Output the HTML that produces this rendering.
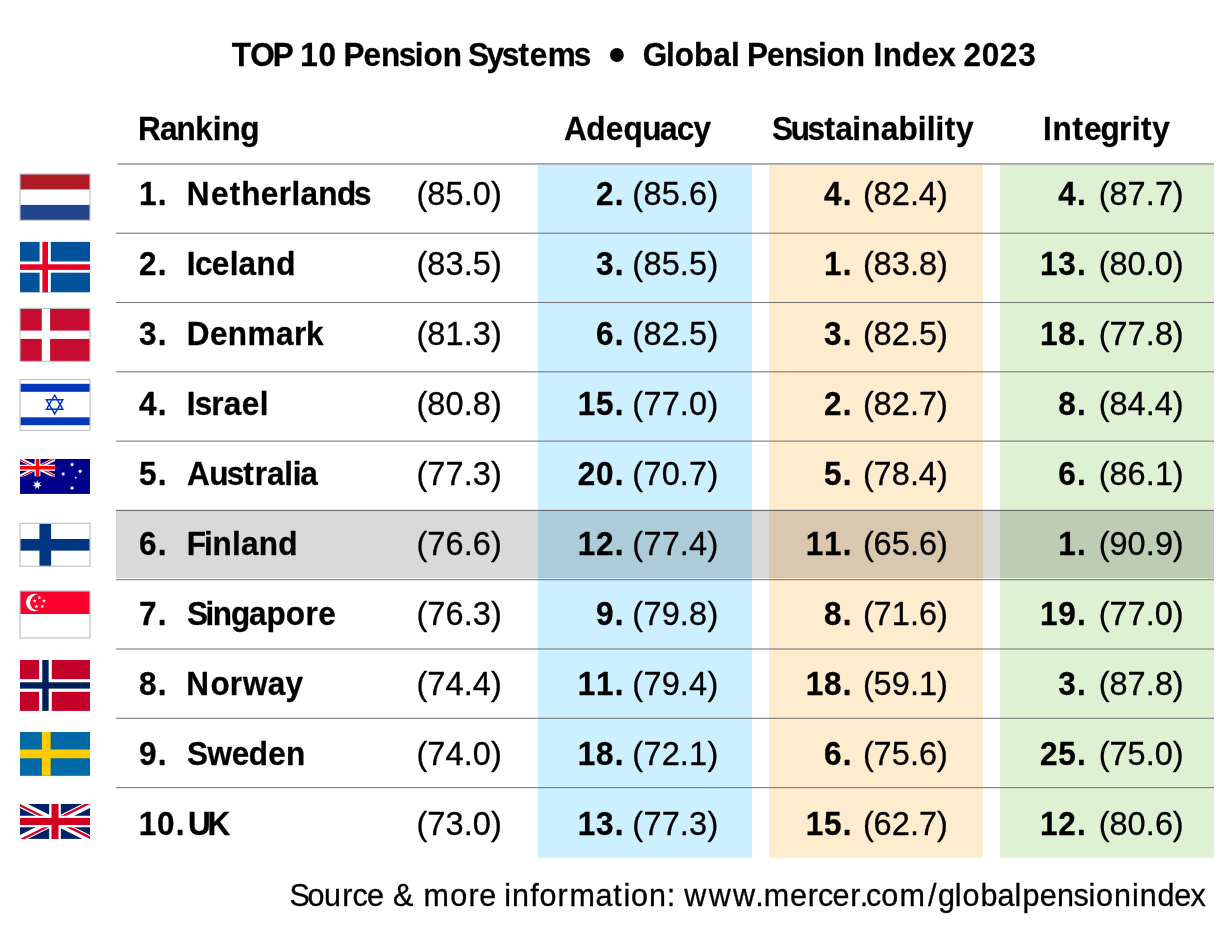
<!DOCTYPE html>
<html lang="en"><head><meta charset="utf-8"><title>TOP 10 Pension Systems - Global Pension Index 2023</title>
<style>html,body{margin:0;padding:0;background:#fff}svg{display:block}text{font-family:"Liberation Sans",sans-serif;white-space:pre;font-variant-ligatures:none;font-kerning:none}text{stroke:#000;stroke-width:.3px;stroke-linejoin:round}.b{font-weight:700;stroke-width:.3px}</style></head><body>
<svg width="1232" height="936" viewBox="0 0 1232 936">
<rect width="1232" height="936" fill="#fff"/>
<rect x="538" y="164.5" width="214" height="693.2" fill="#CCF0FF"/>
<rect x="769" y="164.5" width="214" height="693.2" fill="#FFEBCD"/>
<rect x="1000" y="164.5" width="214" height="693.2" fill="#DEF1D3"/>
<rect x="117.5" y="163" width="1096.5" height="1.8" fill="#a6a6a6"/>
<rect x="116" y="232.65" width="1098" height="1.1" fill="#7c7c7c"/>
<rect x="116" y="301.95" width="1098" height="1.1" fill="#7c7c7c"/>
<rect x="116" y="371.25" width="1098" height="1.1" fill="#7c7c7c"/>
<rect x="116" y="440.55" width="1098" height="1.1" fill="#7c7c7c"/>
<rect x="116" y="509.85" width="1098" height="1.1" fill="#7c7c7c"/>
<rect x="116" y="579.15" width="1098" height="1.1" fill="#7c7c7c"/>
<rect x="116" y="648.45" width="1098" height="1.1" fill="#7c7c7c"/>
<rect x="116" y="717.75" width="1098" height="1.1" fill="#7c7c7c"/>
<rect x="116" y="787.05" width="1098" height="1.1" fill="#7c7c7c"/>
<rect x="116" y="509.9" width="1098" height="68.3" fill="#000" fill-opacity="0.15"/>
<defs><clipPath id="ujt"><path d="M30,15 h30 v15 z v15 h-30 z h-30 v-15 z v-15 h30 z"/></clipPath></defs>
<g><rect x="20" y="174" width="70" height="46.3" fill="#fff"/><rect x="20" y="174" width="70" height="15.43" fill="#AE1C28"/><rect x="20" y="204.87" width="70" height="15.43" fill="#21468B"/><rect x="20" y="174" width="70" height="46.3" fill="none" stroke="#c2c2c2" stroke-width="1.2"/></g>
<g><rect x="20" y="241.9" width="70" height="50.4" fill="#02529C"/><rect x="39.60" y="241.9" width="11.20" height="50.4" fill="#fff"/><rect x="20" y="261.50" width="70" height="11.20" fill="#fff"/><rect x="42.40" y="241.9" width="5.60" height="50.4" fill="#EA0029"/><rect x="20" y="264.30" width="70" height="5.60" fill="#EA0029"/></g>
<g><rect x="20" y="308.4" width="70" height="53" fill="#C60C30"/><rect x="41.8" y="308.4" width="8.3" height="53" fill="#fff"/><rect x="20" y="330.6" width="70" height="8.3" fill="#fff"/><rect x="20" y="308.4" width="70" height="53" fill="none" stroke="#c2c2c2" stroke-width="1.2"/></g>
<g><rect x="20.1" y="379.55" width="70" height="50.9" fill="#fff"/><rect x="20.1" y="383.8" width="70" height="8" fill="#0038B8"/><rect x="20.1" y="417.3" width="70" height="7.9" fill="#0038B8"/><polygon points="54.65,395.15 62.79,409.25 46.51,409.25" fill="none" stroke="#0038B8" stroke-width="1.5"/><polygon points="54.65,413.95 46.51,399.85 62.79,399.85" fill="none" stroke="#0038B8" stroke-width="1.5"/><rect x="20.1" y="379.55" width="70" height="50.9" fill="none" stroke="#c2c2c2" stroke-width="1.2"/></g>
<g><rect x="20" y="459" width="70" height="34.9" fill="#00008B"/><svg x="20" y="459" width="35" height="17.5" viewBox="0 0 60 30" preserveAspectRatio="none"><path d="M0,0 L60,30 M60,0 L0,30" stroke="#fff" stroke-width="6"/><path d="M0,0 L60,30 M60,0 L0,30" clip-path="url(#ujt)" stroke="#FF0000" stroke-width="4"/><path d="M30,0 v30 M0,15 h60" stroke="#fff" stroke-width="10"/><path d="M30,0 v30 M0,15 h60" stroke="#FF0000" stroke-width="6"/></svg><polygon points="37.20,480.10 38.15,482.92 40.95,481.91 39.34,484.41 41.88,485.97 38.92,486.27 39.28,489.22 37.20,487.10 35.12,489.22 35.48,486.27 32.52,485.97 35.06,484.41 33.45,481.91 36.25,482.92" fill="#fff"/><polygon points="72.10,485.70 72.58,487.01 73.90,486.57 73.17,487.76 74.34,488.51 72.96,488.69 73.10,490.07 72.10,489.10 71.10,490.07 71.24,488.69 69.86,488.51 71.03,487.76 70.30,486.57 71.62,487.01" fill="#fff"/><polygon points="63.20,471.60 63.68,472.91 65.00,472.47 64.27,473.66 65.44,474.41 64.06,474.59 64.20,475.97 63.20,475.00 62.20,475.97 62.34,474.59 60.96,474.41 62.13,473.66 61.40,472.47 62.72,472.91" fill="#fff"/><polygon points="72.10,462.30 72.58,463.61 73.90,463.17 73.17,464.36 74.34,465.11 72.96,465.29 73.10,466.67 72.10,465.70 71.10,466.67 71.24,465.29 69.86,465.11 71.03,464.36 70.30,463.17 71.62,463.61" fill="#fff"/><polygon points="80.10,469.00 80.58,470.31 81.90,469.87 81.17,471.06 82.34,471.81 80.96,471.99 81.10,473.37 80.10,472.40 79.10,473.37 79.24,471.99 77.86,471.81 79.03,471.06 78.30,469.87 79.62,470.31" fill="#fff"/><polygon points="75.70,476.20 76.05,477.11 77.03,477.17 76.27,477.79 76.52,478.73 75.70,478.20 74.88,478.73 75.13,477.79 74.37,477.17 75.35,477.11" fill="#fff"/></g>
<g><rect x="20" y="523.4" width="70" height="42.8" fill="#fff"/><rect x="39.44" y="523.4" width="11.67" height="42.8" fill="#003580"/><rect x="20" y="538.96" width="70" height="11.67" fill="#003580"/><rect x="20" y="523.4" width="70" height="42.8" fill="none" stroke="#c2c2c2" stroke-width="1.2"/></g>
<g><rect x="20" y="591" width="70" height="47" fill="#fff"/><rect x="20" y="591" width="70" height="23" fill="#FB002E"/><circle cx="34.75" cy="602.5" r="8.75" fill="#fff"/><circle cx="38.4" cy="602.5" r="8.3" fill="#FB002E"/><polygon points="39.30,595.35 39.80,596.86 41.39,596.87 40.11,597.81 40.59,599.33 39.30,598.40 38.01,599.33 38.49,597.81 37.21,596.87 38.80,596.86" fill="#fff"/><polygon points="44.01,598.77 44.51,600.28 46.10,600.29 44.82,601.23 45.30,602.75 44.01,601.82 42.71,602.75 43.20,601.23 41.92,600.29 43.51,600.28" fill="#fff"/><polygon points="42.21,604.30 42.71,605.82 44.30,605.82 43.02,606.77 43.50,608.28 42.21,607.35 40.92,608.28 41.40,606.77 40.12,605.82 41.71,605.82" fill="#fff"/><polygon points="36.39,604.30 36.89,605.82 38.48,605.82 37.20,606.77 37.68,608.28 36.39,607.35 35.10,608.28 35.58,606.77 34.30,605.82 35.89,605.82" fill="#fff"/><polygon points="34.59,598.77 35.09,600.28 36.68,600.29 35.40,601.23 35.89,602.75 34.59,601.82 33.30,602.75 33.78,601.23 32.50,600.29 34.09,600.28" fill="#fff"/><rect x="20" y="591" width="70" height="47" fill="none" stroke="#c2c2c2" stroke-width="1.2"/></g>
<g><rect x="20" y="660" width="70" height="50.9" fill="#C4002A"/><rect x="39.09" y="660" width="12.73" height="50.9" fill="#fff"/><rect x="20" y="679.09" width="70" height="12.73" fill="#fff"/><rect x="42.27" y="660" width="6.36" height="50.9" fill="#00205B"/><rect x="20" y="682.27" width="70" height="6.36" fill="#00205B"/></g>
<g><rect x="20" y="732" width="70" height="43.8" fill="#006AA7"/><rect x="41.88" y="732" width="8.75" height="43.8" fill="#FECC00"/><rect x="20" y="749.50" width="70" height="8.75" fill="#FECC00"/></g>
<svg x="20" y="804" width="70" height="34.9" viewBox="0 0 60 30" preserveAspectRatio="none"><rect width="60" height="30" fill="#012169"/><path d="M0,0 L60,30 M60,0 L0,30" stroke="#fff" stroke-width="6"/><path d="M0,0 L60,30 M60,0 L0,30" clip-path="url(#ujt)" stroke="#D4001F" stroke-width="4"/><path d="M30,0 v30 M0,15 h60" stroke="#fff" stroke-width="10"/><path d="M30,0 v30 M0,15 h60" stroke="#D4001F" stroke-width="6"/></svg>
<circle cx="616.9" cy="55" r="6.9" fill="#000"/>
<text class="b" transform="scale(0.97,1)" x="238.9 258.0 281.1 300.6 309.6 328.4 346.5 354.2 374.8 392.9 411.1 427.5 436.6 456.5 476.0 482.6 501.6 517.4 534.5 546.2 564.6 591.5" y="66.25" font-size="32.5">TOP 10 Pension Systems</text>
<text class="b" transform="scale(0.97,1)" x="662.6 686.6 695.7 715.5 735.4 753.6 762.3 770.0 790.6 808.6 826.7 843.2 852.2 872.0 891.5 900.6 910.0 929.8 949.9 967.4 984.3 993.3 1012.0 1030.7 1049.7" y="66.25" font-size="32.5">Global Pension Index 2023</text>
<text class="b" transform="scale(0.97,1)" x="142.3 164.9 182.1 201.3 219.3 228.3 247.7" y="139.75" font-size="32.5">Ranking</text>
<text class="b" transform="scale(0.97,1)" x="581.5 604.4 624.4 642.7 662.1 680.4 697.6 715.0" y="139.75" font-size="32.5">Adequacy</text>
<text class="b" transform="scale(0.97,1)" x="795.9 815.2 832.6 850.0 861.1 878.7 887.9 907.9 926.2 946.2 955.3 964.4 974.0 985.6" y="139.75" font-size="32.5">Sustainability</text>
<text class="b" transform="scale(0.97,1)" x="1075.3 1085.0 1105.8 1117.5 1134.6 1153.7 1166.7 1176.3 1187.8" y="139.75" font-size="32.5">Integrity</text>
<text class="b" transform="scale(0.97,1)" x="143.3 162.7" y="204.75" font-size="32.5">1.</text>
<text class="b" transform="scale(0.97,1)" x="192.6 217.6 236.9 248.7 268.9 287.5 300.5 309.7 328.0 347.3 364.9" y="204.75" font-size="32.5">Netherlands</text>
<text x="416.4 427.2 445.5 463.7 472.7 490.9" y="204.75" font-size="32.5">(85.0)</text>
<text class="b" transform="scale(0.97,1)" x="614.5 633.9" y="204.75" font-size="32.5">2.</text>
<text x="632.2 643.4 661.7 679.8 689.0 707.4" y="204.75" font-size="32.5">(85.6)</text>
<text class="b" transform="scale(0.97,1)" x="849.5 868.9" y="204.75" font-size="32.5">4.</text>
<text x="862.9 873.5 891.7 909.9 918.8 936.9" y="204.75" font-size="32.5">(82.4)</text>
<text class="b" transform="scale(0.97,1)" x="1091.0 1110.4" y="204.75" font-size="32.5">4.</text>
<text x="1098.7 1109.4 1127.6 1145.8 1154.9 1172.8" y="204.75" font-size="32.5">(87.7)</text>
<text class="b" transform="scale(0.97,1)" x="143.3 162.7" y="274.75" font-size="32.5">2.</text>
<text class="b" transform="scale(0.97,1)" x="192.6 201.0 218.2 236.8 246.0 264.4 284.7" y="274.75" font-size="32.5">Iceland</text>
<text x="416.4 427.2 445.5 463.7 472.8 490.9" y="274.75" font-size="32.5">(83.5)</text>
<text class="b" transform="scale(0.97,1)" x="614.5 633.9" y="274.75" font-size="32.5">3.</text>
<text x="632.2 643.4 661.7 679.8 689.0 707.4" y="274.75" font-size="32.5">(85.5)</text>
<text class="b" transform="scale(0.97,1)" x="849.5 868.9" y="274.75" font-size="32.5">1.</text>
<text x="862.9 873.5 891.7 909.9 919.1 936.9" y="274.75" font-size="32.5">(83.8)</text>
<text class="b" transform="scale(0.97,1)" x="1072.2 1091.0 1110.4" y="274.75" font-size="32.5">13.</text>
<text x="1098.7 1109.4 1127.6 1145.8 1154.7 1172.8" y="274.75" font-size="32.5">(80.0)</text>
<text class="b" transform="scale(0.97,1)" x="143.3 162.7" y="344.75" font-size="32.5">3.</text>
<text class="b" transform="scale(0.97,1)" x="192.6 216.4 234.7 255.1 284.6 303.0 315.5" y="344.75" font-size="32.5">Denmark</text>
<text x="416.4 427.2 445.5 463.7 472.8 490.9" y="344.75" font-size="32.5">(81.3)</text>
<text class="b" transform="scale(0.97,1)" x="614.5 633.9" y="344.75" font-size="32.5">6.</text>
<text x="632.2 643.4 661.7 679.8 689.0 707.4" y="344.75" font-size="32.5">(82.5)</text>
<text class="b" transform="scale(0.97,1)" x="849.5 868.9" y="344.75" font-size="32.5">3.</text>
<text x="862.9 873.5 891.7 909.9 919.1 936.9" y="344.75" font-size="32.5">(82.5)</text>
<text class="b" transform="scale(0.97,1)" x="1072.2 1091.0 1110.4" y="344.75" font-size="32.5">18.</text>
<text x="1098.7 1109.4 1127.6 1145.8 1154.9 1172.8" y="344.75" font-size="32.5">(77.8)</text>
<text class="b" transform="scale(0.97,1)" x="143.3 162.7" y="414.75" font-size="32.5">4.</text>
<text class="b" transform="scale(0.97,1)" x="192.6 200.8 217.9 230.8 249.3 267.9" y="414.75" font-size="32.5">Israel</text>
<text x="416.4 427.2 445.5 463.7 472.8 490.9" y="414.75" font-size="32.5">(80.8)</text>
<text class="b" transform="scale(0.97,1)" x="595.7 614.5 633.9" y="414.75" font-size="32.5">15.</text>
<text x="632.2 643.4 661.7 679.8 689.0 707.4" y="414.75" font-size="32.5">(77.0)</text>
<text class="b" transform="scale(0.97,1)" x="849.5 868.9" y="414.75" font-size="32.5">2.</text>
<text x="862.9 873.5 891.7 909.9 919.1 936.9" y="414.75" font-size="32.5">(82.7)</text>
<text class="b" transform="scale(0.97,1)" x="1091.0 1110.4" y="414.75" font-size="32.5">8.</text>
<text x="1098.7 1109.4 1127.6 1145.8 1154.7 1172.8" y="414.75" font-size="32.5">(84.4)</text>
<text class="b" transform="scale(0.97,1)" x="143.3 162.7" y="484.75" font-size="32.5">5.</text>
<text class="b" transform="scale(0.97,1)" x="192.8 215.6 233.7 250.9 262.7 275.3 293.0 301.9 309.6" y="484.75" font-size="32.5">Australia</text>
<text x="416.4 427.2 445.5 463.7 472.8 490.9" y="484.75" font-size="32.5">(77.3)</text>
<text class="b" transform="scale(0.97,1)" x="595.7 614.5 633.9" y="484.75" font-size="32.5">20.</text>
<text x="632.2 643.4 661.7 679.8 689.0 707.4" y="484.75" font-size="32.5">(70.7)</text>
<text class="b" transform="scale(0.97,1)" x="849.5 868.9" y="484.75" font-size="32.5">5.</text>
<text x="862.9 873.5 891.7 909.9 918.8 936.9" y="484.75" font-size="32.5">(78.4)</text>
<text class="b" transform="scale(0.97,1)" x="1091.0 1110.4" y="484.75" font-size="32.5">6.</text>
<text x="1098.7 1109.4 1127.6 1145.8 1154.9 1172.8" y="484.75" font-size="32.5">(86.1)</text>
<text class="b" transform="scale(0.97,1)" x="143.3 162.7" y="554.75" font-size="32.5">6.</text>
<text class="b" transform="scale(0.97,1)" x="192.6 210.3 219.2 239.1 248.4 266.7 286.9" y="554.75" font-size="32.5">Finland</text>
<text x="416.4 427.2 445.5 463.7 472.8 490.9" y="554.75" font-size="32.5">(76.6)</text>
<text class="b" transform="scale(0.97,1)" x="595.7 614.5 633.9" y="554.75" font-size="32.5">12.</text>
<text x="632.2 643.4 661.7 679.8 689.0 707.4" y="554.75" font-size="32.5">(77.4)</text>
<text class="b" transform="scale(0.97,1)" x="830.7 849.5 868.9" y="554.75" font-size="32.5">11.</text>
<text x="862.9 873.5 891.7 909.9 919.1 936.9" y="554.75" font-size="32.5">(65.6)</text>
<text class="b" transform="scale(0.97,1)" x="1091.0 1110.4" y="554.75" font-size="32.5">1.</text>
<text x="1098.7 1109.4 1127.6 1145.8 1154.9 1172.8" y="554.75" font-size="32.5">(90.9)</text>
<text class="b" transform="scale(0.97,1)" x="143.3 162.7" y="624.75" font-size="32.5">7.</text>
<text class="b" transform="scale(0.97,1)" x="192.8 211.8 219.4 238.2 256.8 274.7 294.7 314.9 328.1" y="624.75" font-size="32.5">Singapore</text>
<text x="416.4 427.2 445.5 463.7 472.8 490.9" y="624.75" font-size="32.5">(76.3)</text>
<text class="b" transform="scale(0.97,1)" x="614.5 633.9" y="624.75" font-size="32.5">9.</text>
<text x="632.2 643.4 661.7 679.8 689.0 707.4" y="624.75" font-size="32.5">(79.8)</text>
<text class="b" transform="scale(0.97,1)" x="849.5 868.9" y="624.75" font-size="32.5">8.</text>
<text x="862.9 873.5 891.7 909.9 919.1 936.9" y="624.75" font-size="32.5">(71.6)</text>
<text class="b" transform="scale(0.97,1)" x="1072.2 1091.0 1110.4" y="624.75" font-size="32.5">19.</text>
<text x="1098.7 1109.4 1127.6 1145.8 1154.7 1172.8" y="624.75" font-size="32.5">(77.0)</text>
<text class="b" transform="scale(0.97,1)" x="143.3 162.7" y="694.75" font-size="32.5">8.</text>
<text class="b" transform="scale(0.97,1)" x="192.0 216.9 236.8 250.5 276.0 294.3" y="694.75" font-size="32.5">Norway</text>
<text x="416.4 427.2 445.5 463.7 472.7 490.9" y="694.75" font-size="32.5">(74.4)</text>
<text class="b" transform="scale(0.97,1)" x="595.7 614.5 633.9" y="694.75" font-size="32.5">11.</text>
<text x="632.2 643.4 661.7 679.8 689.0 707.4" y="694.75" font-size="32.5">(79.4)</text>
<text class="b" transform="scale(0.97,1)" x="830.7 849.5 868.9" y="694.75" font-size="32.5">18.</text>
<text x="862.9 873.5 891.7 909.9 919.1 936.9" y="694.75" font-size="32.5">(59.1)</text>
<text class="b" transform="scale(0.97,1)" x="1091.0 1110.4" y="694.75" font-size="32.5">3.</text>
<text x="1098.7 1109.4 1127.6 1145.8 1154.9 1172.8" y="694.75" font-size="32.5">(87.8)</text>
<text class="b" transform="scale(0.97,1)" x="143.3 162.7" y="764.75" font-size="32.5">9.</text>
<text class="b" transform="scale(0.97,1)" x="192.8 213.8 238.8 256.4 276.6 294.9" y="764.75" font-size="32.5">Sweden</text>
<text x="416.4 427.2 445.5 463.7 472.7 490.9" y="764.75" font-size="32.5">(74.0)</text>
<text class="b" transform="scale(0.97,1)" x="595.7 614.5 633.9" y="764.75" font-size="32.5">18.</text>
<text x="632.2 643.4 661.7 679.8 689.0 707.4" y="764.75" font-size="32.5">(72.1)</text>
<text class="b" transform="scale(0.97,1)" x="849.5 868.9" y="764.75" font-size="32.5">6.</text>
<text x="862.9 873.5 891.7 909.9 919.1 936.9" y="764.75" font-size="32.5">(75.6)</text>
<text class="b" transform="scale(0.97,1)" x="1072.2 1091.0 1110.4" y="764.75" font-size="32.5">25.</text>
<text x="1098.7 1109.4 1127.6 1145.8 1154.7 1172.8" y="764.75" font-size="32.5">(75.0)</text>
<text class="b" transform="scale(0.97,1)" x="143.0 161.8 181.3" y="834.75" font-size="32.5">10.</text>
<text class="b" transform="scale(0.97,1)" x="193.7 214.0" y="834.75" font-size="32.5">UK</text>
<text x="416.4 427.2 445.5 463.7 472.7 490.9" y="834.75" font-size="32.5">(73.0)</text>
<text class="b" transform="scale(0.97,1)" x="595.7 614.5 633.9" y="834.75" font-size="32.5">13.</text>
<text x="632.2 643.4 661.7 679.8 689.0 707.4" y="834.75" font-size="32.5">(77.3)</text>
<text class="b" transform="scale(0.97,1)" x="830.7 849.5 868.9" y="834.75" font-size="32.5">15.</text>
<text x="862.9 873.5 891.7 909.9 919.1 936.9" y="834.75" font-size="32.5">(62.7)</text>
<text class="b" transform="scale(0.97,1)" x="1072.2 1091.0 1110.4" y="834.75" font-size="32.5">12.</text>
<text x="1098.7 1109.4 1127.6 1145.8 1154.9 1172.8" y="834.75" font-size="32.5">(80.6)</text>
<text x="289.5 307.6 324.0 342.2 352.5 367.1 383.6 393.1 414.5 423.5 450.2 468.5 479.3 495.6 504.2 511.9 530.2 539.6 557.6 569.4 595.4 613.3 623.5 631.1 649.0 666.7 675.1 684.3 708.7 733.1 755.3 763.7 789.9 807.7 818.0 832.6 850.3 859.7 866.1 881.2 899.4 928.0 938.0 954.8 962.5 980.4 997.5 1014.6 1022.4 1039.7 1057.1 1073.6 1088.4 1096.1 1114.0 1131.9 1139.7 1157.5 1174.2 1190.5" y="905.60" font-size="30.5">Source &amp; more information: www.mercer.com/globalpensionindex</text>
</svg></body></html>
